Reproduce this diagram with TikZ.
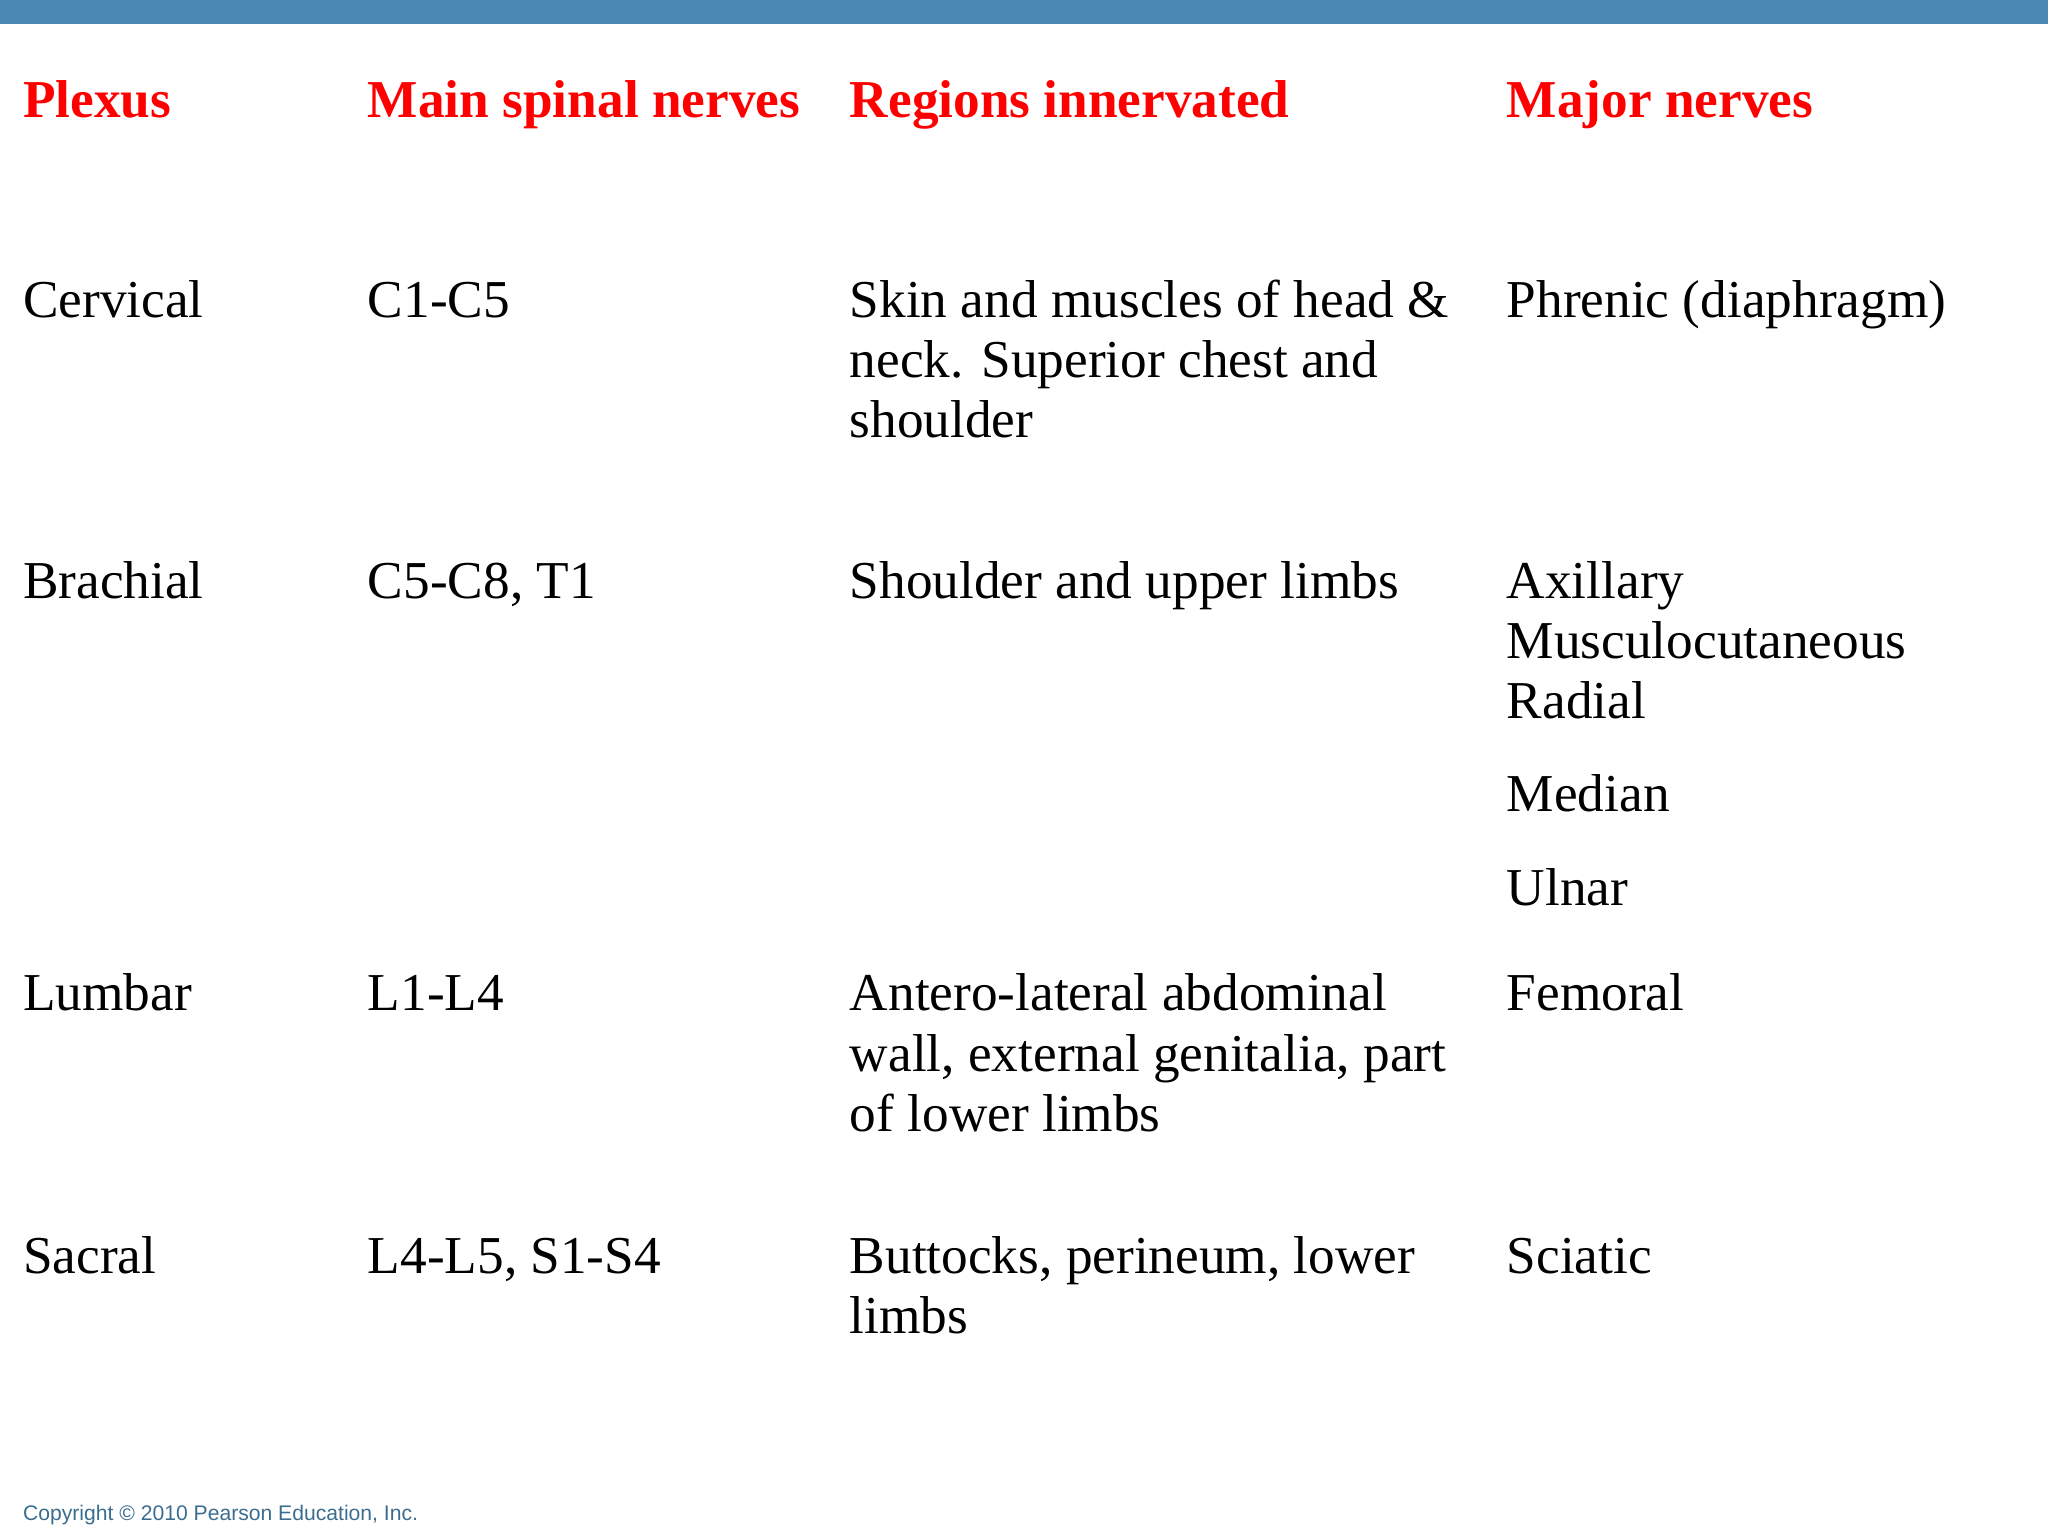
\documentclass[tikz,border=0pt]{standalone}
\usepackage{fontspec}
\setmainfont{Liberation Serif}
\setsansfont{Liberation Sans}
\begin{document}
\begin{tikzpicture}[x=0.01cm,y=-0.01cm,
  cell/.style={anchor=base west,inner sep=0,align=left,font=\fontsize{11.6pt}{13.1pt}\selectfont},
  head/.style={cell,font=\fontsize{11.6pt}{13.1pt}\selectfont\bfseries,text=red}]
\definecolor{bar}{HTML}{4A88B4}
\useasboundingbox (0,0) rectangle (1568,1176);
\fill[bar] (0,0) rectangle (1568,18);
\node[head] (h1) at (17,90) {Plexus};
\node[head] (h2) at (281,90) {Main spinal nerves};
\node[head] (h3) at (650,90) {Regions innervated};
\node[head] (h4) at (1153,90) {Major nerves};
\node[cell] (a1) at (17,243) {Cervical};
\node[cell] (a2) at (281,243) {C1-C5};
\node[cell] (a3) at (650,243) {Skin and muscles of head \&};
\node[cell] (a3b) at (650,289) {neck. Superior chest and};
\node[cell] (a3c) at (650,335) {shoulder};
\node[cell] (a4) at (1153,243) {Phrenic (diaphragm)};
\node[cell] (b1) at (17,458) {Brachial};
\node[cell] (b2) at (281,458) {C5-C8, T1};
\node[cell] (b3) at (650,458) {Shoulder and upper limbs};
\node[cell] (b4) at (1153,458) {Axillary};
\node[cell] (b4b) at (1153,504) {Musculocutaneous};
\node[cell] (b4c) at (1153,550) {Radial};
\node[cell] (b4d) at (1153,621) {Median};
\node[cell] (b4e) at (1153,693) {Ulnar};
\node[cell] (c1) at (17,774) {Lumbar};
\node[cell] (c2) at (281,774) {L1-L4};
\node[cell] (c3) at (650,774) {Antero-lateral abdominal};
\node[cell] (c3b) at (650,820) {wall, external genitalia, part};
\node[cell] (c3c) at (650,866) {of lower limbs};
\node[cell] (c4) at (1153,774) {Femoral};
\node[cell] (d1) at (17,975) {Sacral};
\node[cell] (d2) at (281,975) {L4-L5, S1-S4};
\node[cell] (d3) at (650,975) {Buttocks, perineum, lower};
\node[cell] (d3b) at (650,1021) {limbs};
\node[cell] (d4) at (1153,975) {Sciatic};
\node[anchor=base west,inner sep=0,font=\sffamily\fontsize{4.6pt}{5pt}\selectfont,text=bar!80!black] (cp) at (17,1164) {Copyright © 2010 Pearson Education, Inc.};
\end{tikzpicture}
\end{document}
